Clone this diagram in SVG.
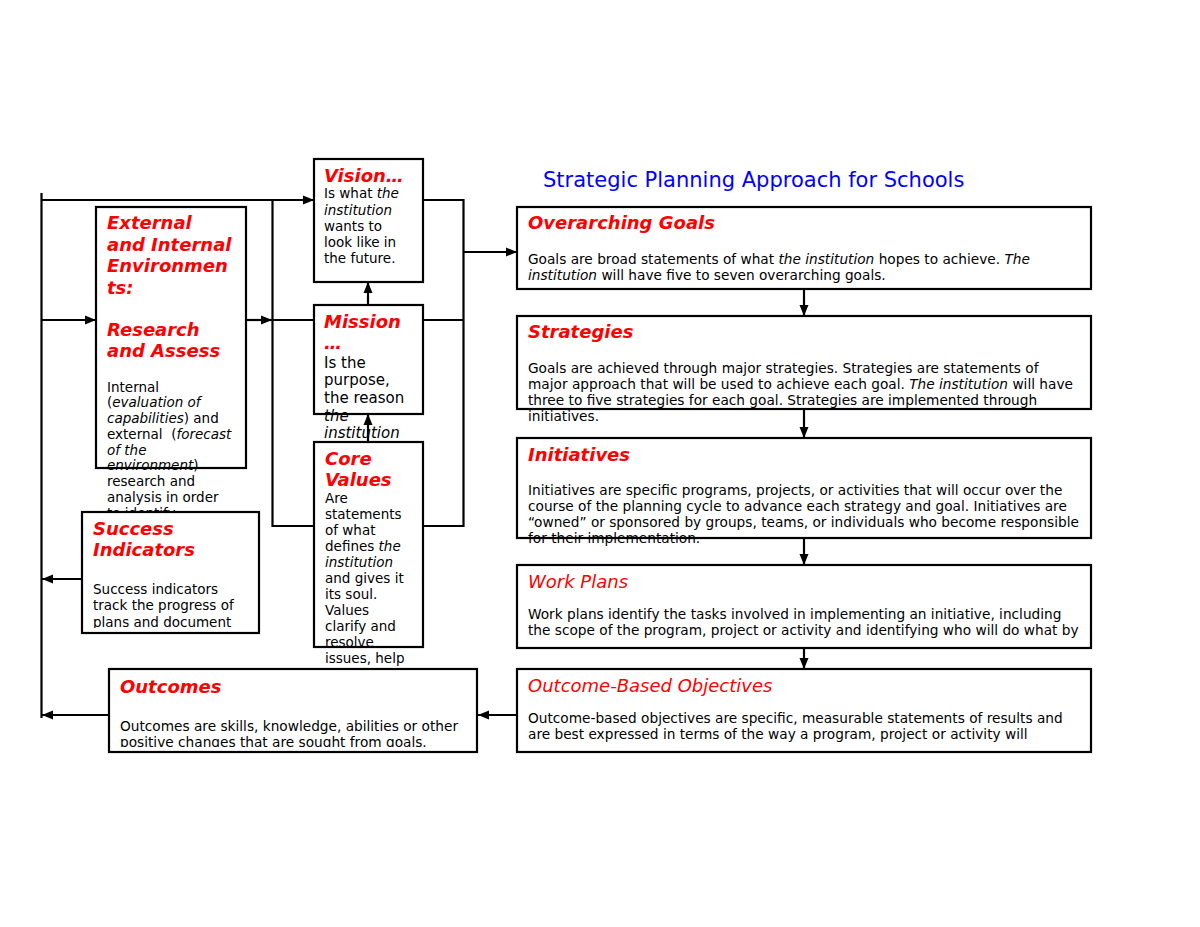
<svg xmlns="http://www.w3.org/2000/svg" width="1200" height="927" viewBox="0 0 1200 927">
<defs>
<marker id="arr" markerUnits="userSpaceOnUse" markerWidth="11" markerHeight="10" refX="11" refY="5" orient="auto">
<path d="M0,0.5 L11,5 L0,9.5 z" fill="#000"/>
</marker>
<clipPath id="clipSuccess"><rect x="82" y="512" width="177" height="116"/></clipPath>
<clipPath id="clipOutcomes"><rect x="109" y="669" width="368" height="78"/></clipPath>
<clipPath id="clipExt"><rect x="90" y="490" width="200" height="21"/></clipPath>
<clipPath id="clipCore"><rect x="310" y="650" width="120" height="18"/></clipPath>
</defs>
<style>
.box{fill:#fff;stroke:#000;stroke-width:2.2}
.h{font-family:"DejaVu Sans",Verdana,sans-serif;font-size:18px;font-weight:bold;font-style:italic;fill:#ff0000}
.hi{font-family:"DejaVu Sans",Verdana,sans-serif;font-size:18px;font-style:italic;fill:#ff0000}
.t{font-family:"DejaVu Sans",Verdana,sans-serif;font-size:13.5px;fill:#000}
.tr{font-family:"DejaVu Sans",Verdana,sans-serif;font-size:13.7px;fill:#000}
.tm{font-family:"DejaVu Sans",Verdana,sans-serif;font-size:15px;fill:#000}
.i{font-style:italic}
.title{font-family:"DejaVu Sans",Verdana,sans-serif;font-size:21px;fill:#0000ff}
.c{fill:none;stroke:#000;stroke-width:2.2}
</style>
<rect width="1200" height="927" fill="#fff"/>
<text class="title" x="543" y="187">Strategic Planning Approach for Schools</text>

<g id="external">
<rect class="box" x="96" y="207" width="150" height="261"/>
<text class="h" x="107" y="229">External</text>
<text class="h" x="107" y="250.5">and Internal</text>
<text class="h" x="107" y="272">Environmen</text>
<text class="h" x="107" y="293.5">ts:</text>
<text class="h" x="107" y="336">Research</text>
<text class="h" x="107" y="357">and Assess</text>
<text class="t" x="107" y="391.5">Internal</text>
<text class="t" x="107" y="407.3">(<tspan class="i">evaluation of</tspan></text>
<text class="t" x="107" y="423"><tspan class="i">capabilities</tspan>) and</text>
<text class="t" x="107" y="438.8">external&#160; (<tspan class="i">forecast</tspan></text>
<text class="t" x="107" y="454.5"><tspan class="i">of the</tspan></text>
<text class="t" x="107" y="470.3"><tspan class="i">environment</tspan>)</text>
<text class="t" x="107" y="486">research and</text>
<text class="t" x="107" y="501.8">analysis in order</text>
<g clip-path="url(#clipExt)"><text class="t" x="107" y="517.5">to identify</text></g>
</g>

<g id="vision">
<rect class="box" x="314" y="159" width="109" height="123"/>
<text class="h" x="324" y="182">Vision…</text>
<text class="t" x="324" y="198">Is what <tspan class="i">the</tspan></text>
<text class="t" x="324" y="214.5"><tspan class="i">institution</tspan></text>
<text class="t" x="324" y="230.7">wants to</text>
<text class="t" x="324" y="246.9">look like in</text>
<text class="t" x="324" y="263">the future.</text>
</g>

<g id="mission">
<rect class="box" x="314" y="305" width="109" height="109"/>
<text class="h" x="324" y="328">Mission</text>
<text class="h" x="324" y="349">…</text>
<text class="tm" x="324" y="367.5">Is the</text>
<text class="tm" x="324" y="385.2">purpose,</text>
<text class="tm" x="324" y="402.9">the reason</text>
<text class="tm" x="324" y="420.6"><tspan class="i">the</tspan></text>
<text class="tm" x="324" y="438.3"><tspan class="i">institution</tspan></text>
</g>

<g id="core-values">
<rect class="box" x="314" y="442" width="109" height="205"/>
<text class="h" x="325" y="465">Core</text>
<text class="h" x="325" y="486">Values</text>
<text class="t" x="325" y="503">Are</text>
<text class="t" x="325" y="519">statements</text>
<text class="t" x="325" y="535">of what</text>
<text class="t" x="325" y="551">defines <tspan class="i">the</tspan></text>
<text class="t" x="325" y="567"><tspan class="i">institution</tspan></text>
<text class="t" x="325" y="583">and gives it</text>
<text class="t" x="325" y="598.7">its soul.</text>
<text class="t" x="325" y="614.6">Values</text>
<text class="t" x="325" y="630.6">clarify and</text>
<text class="t" x="325" y="646.6">resolve</text>
<text class="t" x="325" y="662.5">issues, help</text>
<g clip-path="url(#clipCore)"><text class="t" x="325" y="678.5">determine</text></g>
</g>

<g id="success-indicators">
<rect class="box" x="82" y="512" width="177" height="121"/>
<text class="h" x="93" y="535">Success</text>
<text class="h" x="93" y="556">Indicators</text>
<g clip-path="url(#clipSuccess)">
<text class="t" x="93" y="594">Success indicators</text>
<text class="t" x="93" y="610">track the progress of</text>
<text class="t" x="93" y="627">plans and document</text>
</g>
</g>

<g id="outcomes">
<rect class="box" x="109" y="669" width="368" height="83"/>
<text class="h" x="120" y="693">Outcomes</text>
<g clip-path="url(#clipOutcomes)">
<text class="tr" x="120" y="730.5">Outcomes are skills, knowledge, abilities or other</text>
<text class="tr" x="120" y="746.5">positive changes that are sought from goals.</text>
</g>
</g>

<g id="overarching-goals">
<rect class="box" x="517" y="207" width="574" height="82"/>
<text class="h" x="528" y="229">Overarching Goals</text>
<text class="tr" x="528" y="264">Goals are broad statements of what <tspan class="i">the institution</tspan> hopes to achieve. <tspan class="i">The</tspan></text>
<text class="tr" x="528" y="280"><tspan class="i">institution</tspan> will have five to seven overarching goals.</text>
</g>

<g id="strategies">
<rect class="box" x="517" y="316" width="574" height="93"/>
<text class="h" x="528" y="338">Strategies</text>
<text class="tr" x="528" y="373">Goals are achieved through major strategies. Strategies are statements of</text>
<text class="tr" x="528" y="389">major approach that will be used to achieve each goal. <tspan class="i">The institution</tspan> will have</text>
<text class="tr" x="528" y="405">three to five strategies for each goal. Strategies are implemented through</text>
<text class="tr" x="528" y="421">initiatives.</text>
</g>

<g id="initiatives">
<rect class="box" x="517" y="438" width="574" height="100"/>
<text class="h" x="528" y="461">Initiatives</text>
<text class="tr" x="528" y="495">Initiatives are specific programs, projects, or activities that will occur over the</text>
<text class="tr" x="528" y="511">course of the planning cycle to advance each strategy and goal. Initiatives are</text>
<text class="tr" x="528" y="527">“owned” or sponsored by groups, teams, or individuals who become responsible</text>
<text class="tr" x="528" y="543">for their implementation.</text>
</g>

<g id="work-plans">
<rect class="box" x="517" y="565" width="574" height="83"/>
<text class="hi" x="528" y="588">Work Plans</text>
<text class="tr" x="528" y="619">Work plans identify the tasks involved in implementing an initiative, including</text>
<text class="tr" x="528" y="635">the scope of the program, project or activity and identifying who will do what by</text>
</g>

<g id="outcome-based-objectives">
<rect class="box" x="517" y="669" width="574" height="83"/>
<text class="hi" x="528" y="692">Outcome-Based Objectives</text>
<text class="tr" x="528" y="723">Outcome-based objectives are specific, measurable statements of results and</text>
<text class="tr" x="528" y="739">are best expressed in terms of the way a program, project or activity will</text>
</g>

<g id="connectors">
<path class="c" d="M41.5,193 V718"/>
<path class="c" d="M41.5,200 H314" marker-end="url(#arr)"/>
<path class="c" d="M41.5,320 H96" marker-end="url(#arr)"/>
<path class="c" d="M246,320 H272" marker-end="url(#arr)"/>
<path class="c" d="M272,320 H314"/>
<path class="c" d="M272.5,200 V526 H314"/>
<path class="c" d="M368,305 V282" marker-end="url(#arr)"/>
<path class="c" d="M368,442 V414" marker-end="url(#arr)"/>
<path class="c" d="M423,200 H463.5 V526 H423"/>
<path class="c" d="M423,320 H463.5"/>
<path class="c" d="M463.5,252 H517" marker-end="url(#arr)"/>
<path class="c" d="M804,289 V316" marker-end="url(#arr)"/>
<path class="c" d="M804,409 V438" marker-end="url(#arr)"/>
<path class="c" d="M804,538 V565" marker-end="url(#arr)"/>
<path class="c" d="M804,648 V669" marker-end="url(#arr)"/>
<path class="c" d="M82,579 H42" marker-end="url(#arr)"/>
<path class="c" d="M109,715 H42" marker-end="url(#arr)"/>
<path class="c" d="M517,715 H478" marker-end="url(#arr)"/>
</g>
</svg>
